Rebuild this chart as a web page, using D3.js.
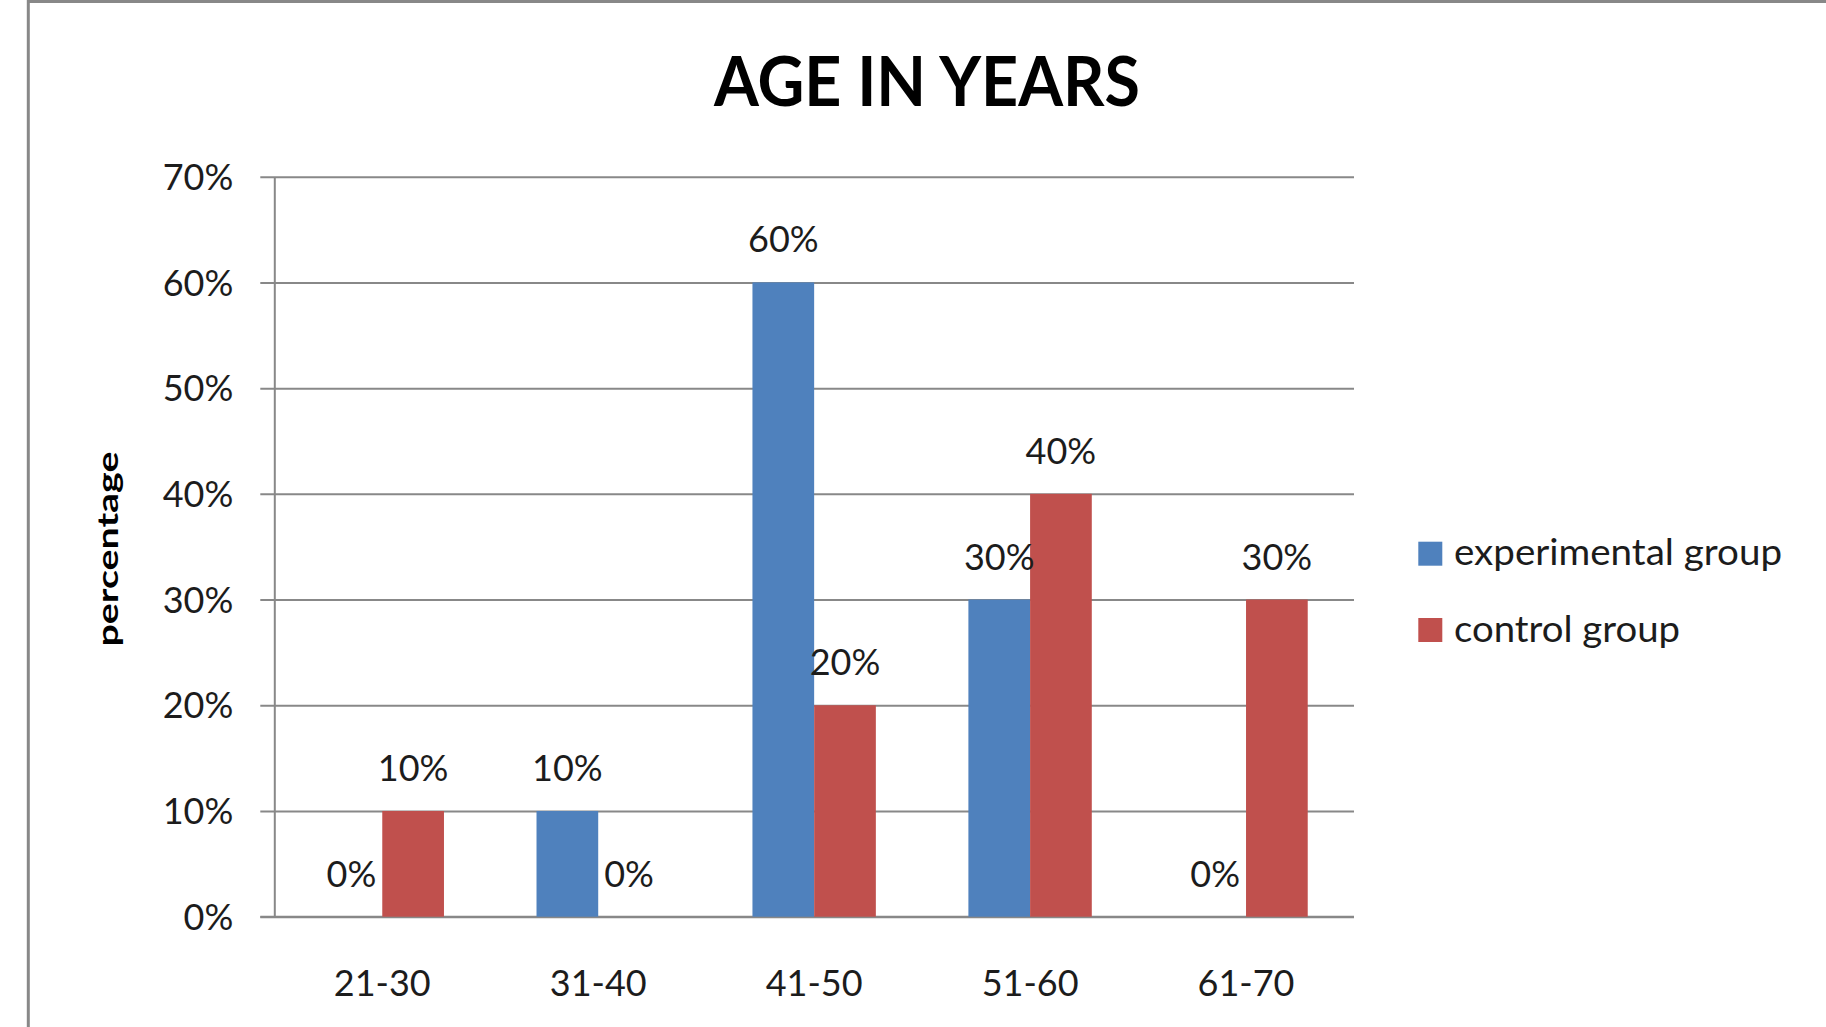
<!DOCTYPE html>
<html>
<head>
<meta charset="utf-8">
<script src="https://cdn.jsdelivr.net/npm/d3@7"></script>
<style>
    body { margin: 0; background: white; }
    svg { display: block; }
</style>
</head>
<body>
<svg id="chart"></svg>
<script>
// Age in years - experimental vs control group (%)

var ageGroups = ["21-30", "31-40", "41-50", "51-60", "61-70"];
var seriesNames = ["experimental group", "control group"];
var experimentalGroup = [0, 0.10, 0.60, 0.30, 0];
var controlGroup = [0.10, 0, 0.20, 0.40, 0.30];
var yTicks = [0, 0.1, 0.2, 0.3, 0.4, 0.5, 0.6, 0.7];

var dimensions = {
    width: 1826,
    height: 1027,
    plot: {
        left: 274.3,
        right: 1354,
        top: 176.7,
        bottom: 916.7
    }
}

var seriesColors = ["#4F81BD", "#C0504D"];
var gridColor = "#888888";
var textColor = "#1c1c1c";
var fontFamily = "Lato, 'Open Sans', sans-serif";

var svg = d3.select("#chart")
    .attr("width", dimensions.width)
    .attr("height", dimensions.height)
    .style("background-color", "white");

// chart area border (only top and left are visible in the frame)
svg.append("rect")
    .attr("x", 28.3)
    .attr("y", 1.5)
    .attr("width", 1900)
    .attr("height", 1200)
    .attr("fill", "white")
    .attr("stroke", gridColor)
    .attr("stroke-width", 3);

var rows = ageGroups.map((age, i) => ({
    age: age,
    values: [experimentalGroup[i], controlGroup[i]]
}));

// Excel style clustered bars: gap width 150%
var xScale = d3.scaleBand()
    .domain(ageGroups)
    .range([dimensions.plot.left, dimensions.plot.right])
    .paddingInner(1.5 / 3.5)
    .paddingOuter(0.75 / 3.5);

var xSeries = d3.scaleBand()
    .domain(seriesNames)
    .range([0, xScale.bandwidth()])
    .padding(0);

var yScale = d3.scaleLinear()
    .domain([0, 0.7])
    .range([dimensions.plot.bottom, dimensions.plot.top]);

var color = d3.scaleOrdinal()
    .domain(seriesNames)
    .range(seriesColors);

var plotWidth = dimensions.plot.right - dimensions.plot.left;

// y axis + gridlines
var yAxis = svg.append("g")
    .attr("class", "y-axis")
    .attr("transform", `translate(${dimensions.plot.left},0)`)
    .call(d3.axisLeft(yScale)
        .tickValues(yTicks)
        .tickFormat(d3.format(".0%"))
        .tickSize(14)
        .tickSizeOuter(0)
        .tickPadding(27));

yAxis.select(".domain")
    .attr("stroke", gridColor)
    .attr("stroke-width", 2);

yAxis.selectAll(".tick line")
    .attr("x1", -14)
    .attr("x2", plotWidth)
    .attr("stroke", gridColor)
    .attr("stroke-width", 2);

yAxis.selectAll(".tick text")
    .attr("fill", textColor)
    .attr("dy", "0.35em")
    .style("font-family", fontFamily)
    .style("font-size", "36px");

// x axis
var xAxis = svg.append("g")
    .attr("class", "x-axis")
    .attr("transform", `translate(0,${dimensions.plot.bottom})`)
    .call(d3.axisBottom(xScale).tickSize(0).tickSizeOuter(0));

xAxis.select(".domain")
    .attr("d", `M${dimensions.plot.left - 14},0H${dimensions.plot.right}`)
    .attr("stroke", gridColor)
    .attr("stroke-width", 2);

xAxis.selectAll(".tick text")
    .attr("y", 79.5)
    .attr("dy", null)
    .attr("fill", textColor)
    .style("font-family", fontFamily)
    .style("font-size", "36px");

// bars
var groups = svg.selectAll(".age-group")
    .data(rows)
    .enter()
    .append("g")
    .attr("class", "age-group")
    .attr("transform", d => `translate(${xScale(d.age)},0)`);

groups.selectAll("rect")
    .data(d => d.values.map((v, i) => ({ series: seriesNames[i], value: v })))
    .enter()
    .append("rect")
    .attr("x", d => xSeries(d.series))
    .attr("y", d => yScale(d.value))
    .attr("width", xSeries.bandwidth())
    .attr("height", d => yScale(0) - yScale(d.value))
    .attr("fill", d => color(d.series));

// data labels (drawn after the bars so they sit on top)
groups.selectAll(".value-label")
    .data(d => d.values.map((v, i) => ({ series: seriesNames[i], value: v })))
    .enter()
    .append("text")
    .attr("class", "value-label")
    .attr("x", d => xSeries(d.series) + xSeries.bandwidth() / 2)
    .attr("y", d => yScale(d.value) - 30)
    .attr("text-anchor", "middle")
    .attr("fill", textColor)
    .style("font-family", fontFamily)
    .style("font-size", "36px")
    .text(d => d3.format(".0%")(d.value));

// title
svg.append("text")
    .attr("x", 714)
    .attr("y", 106)
    .attr("textLength", 426)
    .attr("lengthAdjust", "spacingAndGlyphs")
    .attr("fill", "#000")
    .style("font-family", fontFamily)
    .style("font-weight", "bold")
    .style("font-size", "68px")
    .text("AGE IN YEARS");

// y label
svg.append("text")
    .attr("transform", "translate(118,549) rotate(-90)")
    .attr("text-anchor", "middle")
    .attr("textLength", 195)
    .attr("lengthAdjust", "spacingAndGlyphs")
    .attr("fill", "#000")
    .style("font-family", fontFamily)
    .style("font-weight", "bold")
    .style("font-size", "29px")
    .text("percentage");

// legend
var legendWidths = [328, 226];

var legend = svg.selectAll(".legend")
    .data(seriesNames)
    .enter()
    .append("g")
    .attr("class", "legend")
    .attr("transform", (d, i) => `translate(1418.3,${541.7 + i * 76.3})`);

legend.append("rect")
    .attr("width", 24)
    .attr("height", 24)
    .attr("fill", d => color(d));

legend.append("text")
    .attr("x", 35.7)
    .attr("y", 23.5)
    .attr("textLength", (d, i) => legendWidths[i])
    .attr("lengthAdjust", "spacingAndGlyphs")
    .attr("fill", textColor)
    .style("font-family", fontFamily)
    .style("font-size", "37px")
    .text(d => d);
</script>
</body>
</html>
